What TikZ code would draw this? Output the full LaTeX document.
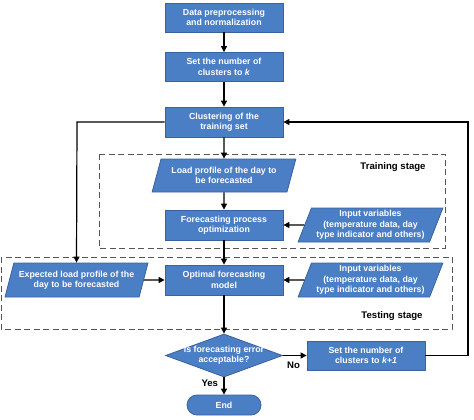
\documentclass[tikz,border=0pt]{standalone}
\usepackage{fontspec}
\setmainfont{Liberation Sans}
\usetikzlibrary{positioning,arrows.meta,shapes.geometric}
\definecolor{boxblue}{RGB}{74,126,197}
\definecolor{boxedge}{RGB}{58,98,158}
\definecolor{stagegray}{RGB}{85,85,85}
\tikzset{
  base/.style={draw=boxedge, fill=boxblue, line width=0.8pt, text=white, align=center,
    font=\fontsize{8.8}{10.3}\selectfont\bfseries, inner sep=1pt},
  box/.style={base, rectangle, minimum width=118pt, minimum height=29pt},
  para/.style={base, trapezium, trapezium left angle=68, trapezium right angle=112,
    trapezium stretches=true, minimum width=144pt, minimum height=34pt},
  decision/.style={base, diamond, minimum width=117pt, minimum height=43pt, inner sep=0pt},
  term/.style={base, rectangle, rounded corners=10pt, minimum width=74pt, minimum height=20pt},
  stage/.style={draw=stagegray, line width=0.9pt, dash pattern=on 6pt off 3.5pt},
  flow/.style={line width=1.2pt, -{Triangle[length=6pt,width=6pt]}},
  lbl/.style={font=\fontsize{9.6}{11}\selectfont\bfseries, text=black},
  dectext/.style={font=\fontsize{8.8}{10.3}\selectfont\bfseries, text=white, align=center}
}

\begin{document}
\begin{tikzpicture}[x=1pt, y=-1pt]
    \useasboundingbox (0,0) rectangle (474,420);

    % stage frames
    \draw[stage] (99,154) rectangle (445,248);
    \draw[stage] (1,257) rectangle (452,329);
    \node[lbl] (trainlbl) at (393,167) {Training stage};
    \node[lbl] (testlbl) at (392,316) {Testing stage};

    % main column
    \node[box] (prep) at (224,17.5) {Data preprocessing\\and normalization};
    \node[box] (setk) at (224,67) {Set the number of\\clusters to \textit{k}};
    \node[box, minimum height=30pt] (clust) at (224,122) {Clustering of the\\training set};
    \node[para, minimum height=33pt] (loadp) at (224,175.5) {Load profile of the day to\\be forecasted};
    \node[box, minimum height=30pt] (optim) at (224,225) {Forecasting process\\optimization};
    \node[para, minimum width=145pt] (inpA) at (370.5,225) {Input variables\\(temperature data, day\\type indicator and others)};
    \node[box, minimum height=30pt] (model) at (224,280) {Optimal forecasting\\model};
    \node[para, minimum width=143pt] (expct) at (76.5,280) {Expected load profile of the\\day to be forecasted};
    \node[para, minimum width=145pt] (inpB) at (370.5,280) {Input variables\\(temperature data, day\\type indicator and others)};

    % decision and end
    \node[decision] (dec) at (224,355.5) {};
    \node[dectext] (dectxt) at (dec) {Is forecasting error\\acceptable?};
    \node[box] (setkk) at (366,355.5) {Set the number of\\clusters to \textit{k+1}};
    \node[term] (stop) at (224,405) {End};

    \coordinate (lftturn) at (77,122);
    \coordinate (rgtlow) at (468,355.5);
    \coordinate (rgthigh) at (468,122);

    \draw[flow] (prep) -- (setk);
    \draw[flow] (setk) -- (clust);
    \draw[flow] (clust) -- (loadp);
    \draw[flow] (loadp) -- (optim);
    \draw[flow] (inpA) -- (optim);
    \draw[flow] (optim) -- (model);
    \draw[flow] (expct) -- (model);
    \draw[flow] (inpB) -- (model);
    \draw[flow] (model) -- (dec);
    \draw[flow] (clust.west) -- (lftturn) -- (expct.north);
    \draw[flow] (dec) -- node[lbl, below, pos=0.45, yshift=-2pt] {No} (setkk);
    \draw[flow] (dec) -- node[lbl, left, pos=0.35, xshift=-2pt] {Yes} (stop);
    \draw[flow] (setkk.east) -- (rgtlow) -- (rgthigh) -- (clust.east);
\end{tikzpicture}
\end{document}
